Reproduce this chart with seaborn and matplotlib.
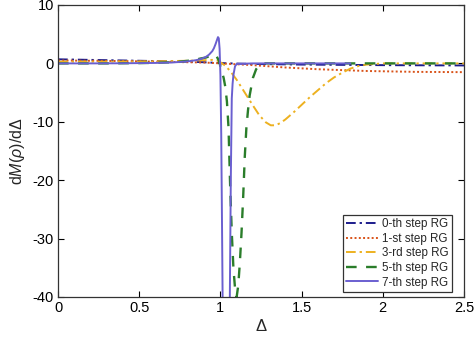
import matplotlib
matplotlib.use("Agg")
import matplotlib.pyplot as plt
import seaborn as sns
import pandas as pd

# RG step curves: derivative dM(rho)/dDelta versus Delta
step0_x = [0.0, 0.2, 0.4, 0.6, 0.8, 0.9, 1.0, 1.2, 1.5, 2.0, 2.5]
step0_y = [0.7, 0.6, 0.5, 0.4, 0.3, 0.2, 0.05, -0.1, -0.2, -0.3, -0.35]

step1_x = [0.0, 0.2, 0.4, 0.6, 0.8, 0.9, 1.0, 1.1, 1.2, 1.3, 1.4, 1.5, 1.6,
           1.7, 1.8, 1.9, 2.0, 2.2, 2.5]
step1_y = [0.5, 0.45, 0.4, 0.3, 0.2, 0.15, 0.0, -0.15, -0.3, -0.5, -0.7,
           -0.85, -1.0, -1.1, -1.2, -1.3, -1.35, -1.45, -1.5]

step3_x = [0.0, 0.3, 0.6, 0.8, 0.9, 0.95, 0.98, 1.0, 1.03, 1.06, 1.1, 1.15,
           1.2, 1.24, 1.28, 1.31, 1.34, 1.37, 1.4, 1.45, 1.5, 1.55, 1.6,
           1.65, 1.7, 1.75, 1.8, 1.85, 1.9, 2.0, 2.5]
step3_y = [0.3, 0.3, 0.35, 0.45, 0.55, 0.6, 0.5, 0.2, -0.4, -1.3, -2.8, -5.0,
           -7.2, -8.9, -10.1, -10.6, -10.6, -10.2, -9.6, -8.4, -7.1, -5.8,
           -4.6, -3.4, -2.4, -1.6, -0.9, -0.45, -0.2, 0.0, 0.0]

step5_x = [0.0, 0.3, 0.5, 0.6, 0.7, 0.75, 0.8, 0.85, 0.88, 0.91, 0.94, 0.96,
           0.975, 0.99, 1.0, 1.01, 1.02, 1.03, 1.04, 1.05, 1.06, 1.07, 1.08,
           1.09, 1.10, 1.11, 1.12, 1.13, 1.14, 1.15, 1.16, 1.17, 1.18, 1.20,
           1.22, 1.24, 1.27, 1.5, 2.0, 2.5]
step5_y = [0.0, 0.0, 0.05, 0.1, 0.2, 0.3, 0.45, 0.65, 0.85, 1.0, 1.3, 1.5,
           1.3, 0.5, -0.5, -1.5, -2.5, -4.0, -6.5, -11.0, -21.0, -29.0, -35.0,
           -38.5, -40.0, -38.0, -34.0, -29.0, -23.0, -16.0, -11.0, -8.0, -5.5,
           -2.5, -1.0, -0.3, 0.0, 0.0, 0.0, 0.0]

step7_x = [0.0, 0.2, 0.4, 0.6, 0.7, 0.8, 0.85, 0.88, 0.91, 0.93, 0.95, 0.96,
           0.97, 0.98, 0.985, 0.99, 0.995, 1.0, 1.005, 1.01, 1.015, 1.02,
           1.04, 1.055, 1.058, 1.064, 1.07, 1.075, 1.08, 1.09, 1.10, 1.2,
           1.5, 1.8]
step7_y = [0.0, 0.0, 0.02, 0.08, 0.15, 0.35, 0.55, 0.75, 1.1, 1.5, 2.1, 2.6,
           3.3, 4.1, 4.5, 4.3, 2.5, -2.0, -12.0, -28.0, -45.0, -60.0,
           -70.0, -50.0, -40.0, -20.0, -6.0, -3.5, -2.0, -0.5, -0.1, 0.0,
           0.0, 0.0]

labels = ["0-th step RG", "1-st step RG", "3-rd step RG", "5-th step RG",
          "7-th step RG"]
xticks = [0, 0.5, 1, 1.5, 2, 2.5]
xticklabels = ["0", "0.5", "1", "1.5", "2", "2.5"]
yticks = [10, 0, -10, -20, -30, -40]

sns.set_theme(style="ticks")
plt.rcParams["font.family"] = ["Liberation Sans", "DejaVu Sans"]
plt.rcParams["mathtext.fontset"] = "custom"
plt.rcParams["mathtext.rm"] = "Liberation Sans"
plt.rcParams["mathtext.it"] = "Liberation Sans:italic"
plt.rcParams["axes.unicode_minus"] = False
plt.rcParams["xtick.direction"] = "in"
plt.rcParams["ytick.direction"] = "in"
plt.rcParams["xtick.top"] = True
plt.rcParams["ytick.right"] = True

fig = plt.figure(figsize=(4.74, 3.40), dpi=100)
ax = fig.add_axes([0.1224, 0.1265, 0.8565, 0.8588])

series = [
    (step0_x, step0_y, "#1c1c8c", (0, (5, 2, 1.2, 2)), 1.4),
    (step1_x, step1_y, "#d95319", (0, (1, 1.2)), 1.4),
    (step3_x, step3_y, "#edb120", (0, (5, 2, 1.2, 2)), 1.4),
    (step5_x, step5_y, "#2a7d2a", (0, (4.5, 4)), 1.7),
    (step7_x, step7_y, "#6a5fd0", "solid", 1.4),
]
for (xs, ys, col, ls, lw), lab in zip(series, labels):
    df = pd.DataFrame({"Delta": xs, "dM": ys})
    sns.lineplot(data=df, x="Delta", y="dM", ax=ax, color=col, linestyle=ls,
                 linewidth=lw, label=lab, sort=False, estimator=None)

ax.set_xlim(0, 2.5)
ax.set_ylim(-40, 10)
ax.set_xticks(xticks)
ax.set_xticklabels(xticklabels)
ax.set_yticks(yticks)
ax.tick_params(axis="both", which="major", length=4, width=0.8,
               labelsize=10.5, colors="black", pad=3)
for sp in ax.spines.values():
    sp.set_visible(True)
    sp.set_color("#333333")
    sp.set_linewidth(0.9)

ax.set_xlabel(r"$\Delta$", fontsize=12, labelpad=2)
ax.set_ylabel(r"d$M(\rho)$/d$\Delta$", fontsize=11.5, labelpad=4)

leg = ax.legend(loc="lower right", bbox_to_anchor=(0.970, 0.017),
                borderaxespad=0, fontsize=8.4, frameon=True, fancybox=False,
                handlelength=2.75, handletextpad=0.3, labelspacing=0.22,
                borderpad=0.3)
leg.get_frame().set_edgecolor("#333333")
leg.get_frame().set_linewidth(0.9)
leg.get_frame().set_alpha(1)

fig.savefig("out.png", dpi=100)
